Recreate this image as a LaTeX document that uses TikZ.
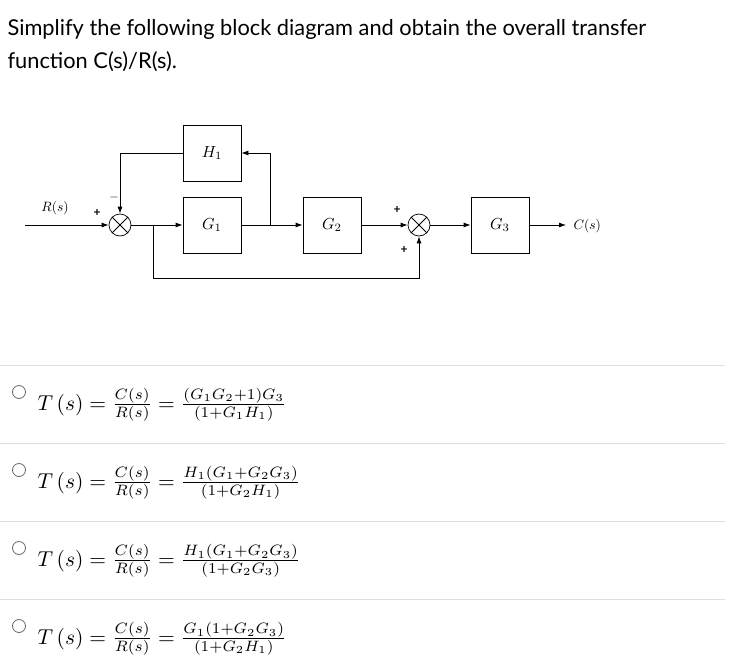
\documentclass[tikz,border=0pt]{standalone}
\usepackage{fontspec}
\setmainfont{Lato}
\usepackage{amsmath}
\usetikzlibrary{arrows.meta}
\newcommand{\bl}[1]{\scalebox{1.6}{$#1$}}
\newcommand{\lb}[1]{\scalebox{1.35}{$#1$}}
\newcommand{\optx}[2]{\scalebox{2.15}{$T\left(s\right)=\tfrac{C(s)}{R(s)}=\tfrac{#1}{#2}$}}
\begin{document}
\begin{tikzpicture}[x=1pt,y=-1pt,
 blk/.style={draw,line width=0.8pt,minimum width=58pt,minimum height=56pt,inner sep=0pt},
 sumj/.style={draw,circle,minimum size=22pt,inner sep=0pt,line width=0.7pt},
 sig/.style={line width=0.8pt,-{Latex[length=7pt,width=5pt]}},
 ln/.style={line width=0.8pt},
 sep/.style={draw=black!12,line width=0.8pt},
 sgn/.style={font=\fontsize{12}{12}\selectfont\bfseries},
 opt/.style={anchor=west},
 radio/.style={draw=black!60,circle,minimum size=13pt,inner sep=0pt,line width=0.8pt}]
\useasboundingbox (0,0) rectangle (752,667);
\node[anchor=north west,align=left,font=\fontsize{21.8}{33}\selectfont] (title) at (4,16) {Simplify the following block diagram and obtain the overall transfer\\function C(s)/R(s).};
% diagram
\node[blk] (h1) at (212,153) {\bl{H_1}};
\node[blk] (g1) at (212,225) {\bl{G_1}};
\node[blk] (g2) at (332,225) {\bl{G_2}};
\node[blk] (g3) at (500,225) {\bl{G_3}};
\node[sumj] (s1) at (120,225) {};
\node[sumj] (s2) at (419,225) {};
\draw[ln] (s1.north west) -- (s1.south east) (s1.north east) -- (s1.south west);
\draw[ln] (s2.north west) -- (s2.south east) (s2.north east) -- (s2.south west);
\coordinate (rin) at (25,225);
\coordinate (cout) at (566,225);
\coordinate (b1) at (153,225);
\coordinate (b2) at (270,225);
\node (rl) at (55,208) {\lb{R(s)}};
\node[anchor=west] (cl) at (570,226) {\lb{C(s)}};
\draw[sig] (rin) -- (s1);
\draw[sig] (s1) -- (g1);
\draw[ln] (g1) -- (b2);
\draw[sig] (b2) -- (g2);
\draw[sig] (g2) -- (s2);
\draw[sig] (s2) -- (g3);
\draw[sig] (g3) -- (cout);
\draw[sig] (b2) |- (h1.east);
\draw[sig] (h1.west) -| (s1.north);
\draw[sig] (b1) -- (153,278) -| (s2.south);
\node[sgn] (p1) at (97,213) {+};
\node[sgn] (m1) at (114,197) {$-$};
\node[sgn] (p2) at (397,210) {+};
\node[sgn] (p3) at (404,250) {+};
% options
\foreach \y in {365,443,521,599} \draw[sep] (0,\y) -- (725,\y);
\foreach \y/\n in {392/a,470/b,548/c,626/d} \node[radio] (r\n) at (19,\y) {};
\node[opt] (oa) at (34,405) {\optx{(G_1G_2{+}1)G_3}{(1{+}G_1H_1)}};
\node[opt] (ob) at (34,483) {\optx{H_1(G_1{+}G_2G_3)}{(1{+}G_2H_1)}};
\node[opt] (oc) at (34,561) {\optx{H_1(G_1{+}G_2G_3)}{(1{+}G_2G_3)}};
\node[opt] (od) at (34,639) {\optx{G_1(1{+}G_2G_3)}{(1{+}G_2H_1)}};
\end{tikzpicture}
\end{document}
